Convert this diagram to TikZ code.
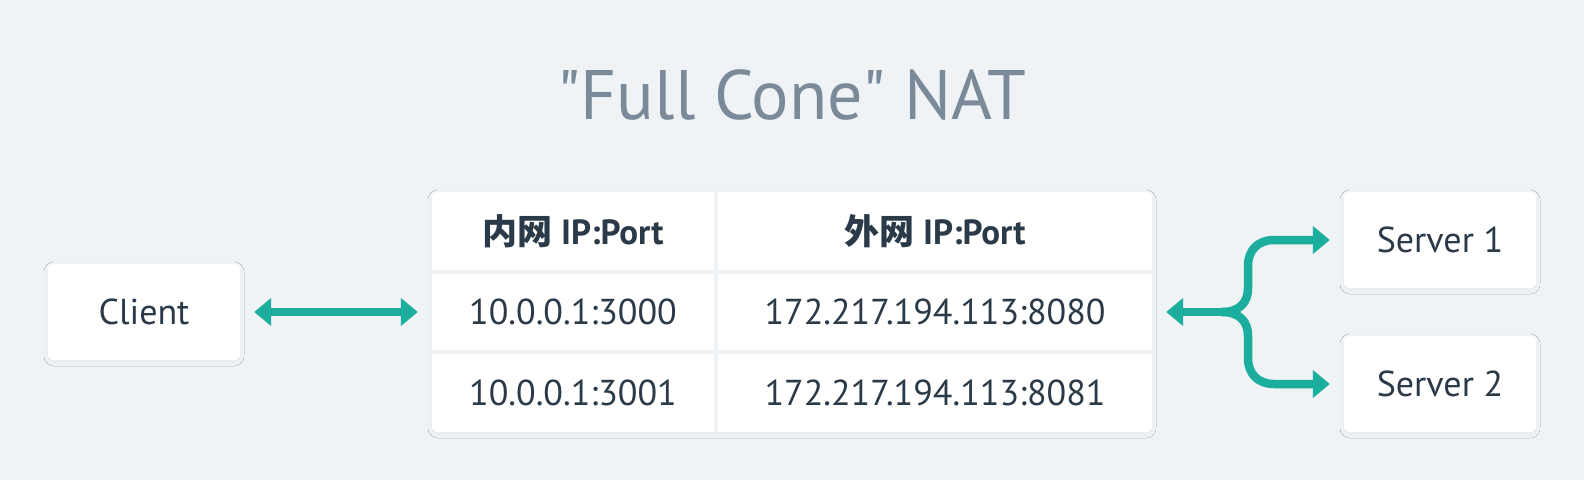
\documentclass[tikz,border=0pt]{standalone}
\usepackage{fontspec}
\setmainfont{PT Sans}
\newfontfamily\titlefont{PT Sans}[Ligatures=TeXOff]
\newfontfamily\cjk{Noto Sans CJK SC}
\usetikzlibrary{arrows.meta,shadows.blur}
\definecolor{bgc}{HTML}{EFF3F6}
\definecolor{titlec}{HTML}{7B8A99}
\definecolor{textc}{HTML}{2B3A48}
\definecolor{teal}{HTML}{1BAE9C}
\tikzset{
  card/.style={fill=white, rounded corners=6pt, inner sep=0pt,
    blur shadow={shadow xshift=0pt,shadow yshift=-2pt,shadow blur radius=4pt,shadow opacity=4}},
  box/.style={card, minimum width=192pt, minimum height=96pt, text=textc,
    font=\fontsize{36}{40}\selectfont},
  celltext/.style={text=textc, font=\fontsize{36}{40}\selectfont, inner sep=0pt},
  headtext/.style={text=textc, font=\fontsize{35}{40}\selectfont\bfseries, inner sep=0pt},
  conn/.style={draw=teal, line width=8.5pt,
    arrows={Triangle[length=17pt,width=27pt]-Triangle[length=17pt,width=27pt]}},
  gap/.style={fill=bgc}
}
\begin{document}
\begin{tikzpicture}[x=1pt,y=-1pt]
\fill[bgc] (0,0) rectangle (1584,480);
\useasboundingbox (0,0) rectangle (1584,480);

\node[text=titlec, font=\titlefont\fontsize{70}{80}\selectfont, inner sep=0pt] (title) at (792,95) {"Full Cone" NAT};

\node[box] (client) at (144,312) {Client};
\node[box] (s1) at (1440,240) {Server 1};
\node[box] (s2) at (1440,384) {Server 2};

\node[card, minimum width=720pt, minimum height=240pt] (table) at (792,312) {};
\fill[gap] (714,192) rectangle (718,432);
\fill[gap] (432,270) rectangle (1152,274);
\fill[gap] (432,350) rectangle (1152,354);

\node[headtext] (h1) at (573,231) {{\cjk\bfseries 内网} IP:Port};
\node[headtext] (h2) at (935,231) {{\cjk\bfseries 外网} IP:Port};
\node[celltext] (a1) at (573,312) {10.0.0.1:3000};
\node[celltext] (b1) at (935,312) {172.217.194.113:8080};
\node[celltext] (a2) at (573,393) {10.0.0.1:3001};
\node[celltext] (b2) at (935,393) {172.217.194.113:8081};

\draw[conn, shorten <=14pt, shorten >=14pt] (client) -- (table);

\coordinate (split) at (1222,312);
\draw[conn, arrows={Triangle[length=17pt,width=27pt]-}, shorten <=14pt] (table.east) -- (split);
\draw[conn, arrows={-Triangle[length=17pt,width=27pt]}, shorten >=14pt, line join=round]
  (split) .. controls (1240,312) and (1248,302) .. (1248,288) -- (1248,266)
  .. controls (1248,250) and (1258,240) .. (1274,240) -- (s1.west);
\draw[conn, arrows={-Triangle[length=17pt,width=27pt]}, shorten >=14pt, line join=round]
  (split) .. controls (1240,312) and (1248,322) .. (1248,336) -- (1248,358)
  .. controls (1248,374) and (1258,384) .. (1274,384) -- (s2.west);
\end{tikzpicture}
\end{document}
